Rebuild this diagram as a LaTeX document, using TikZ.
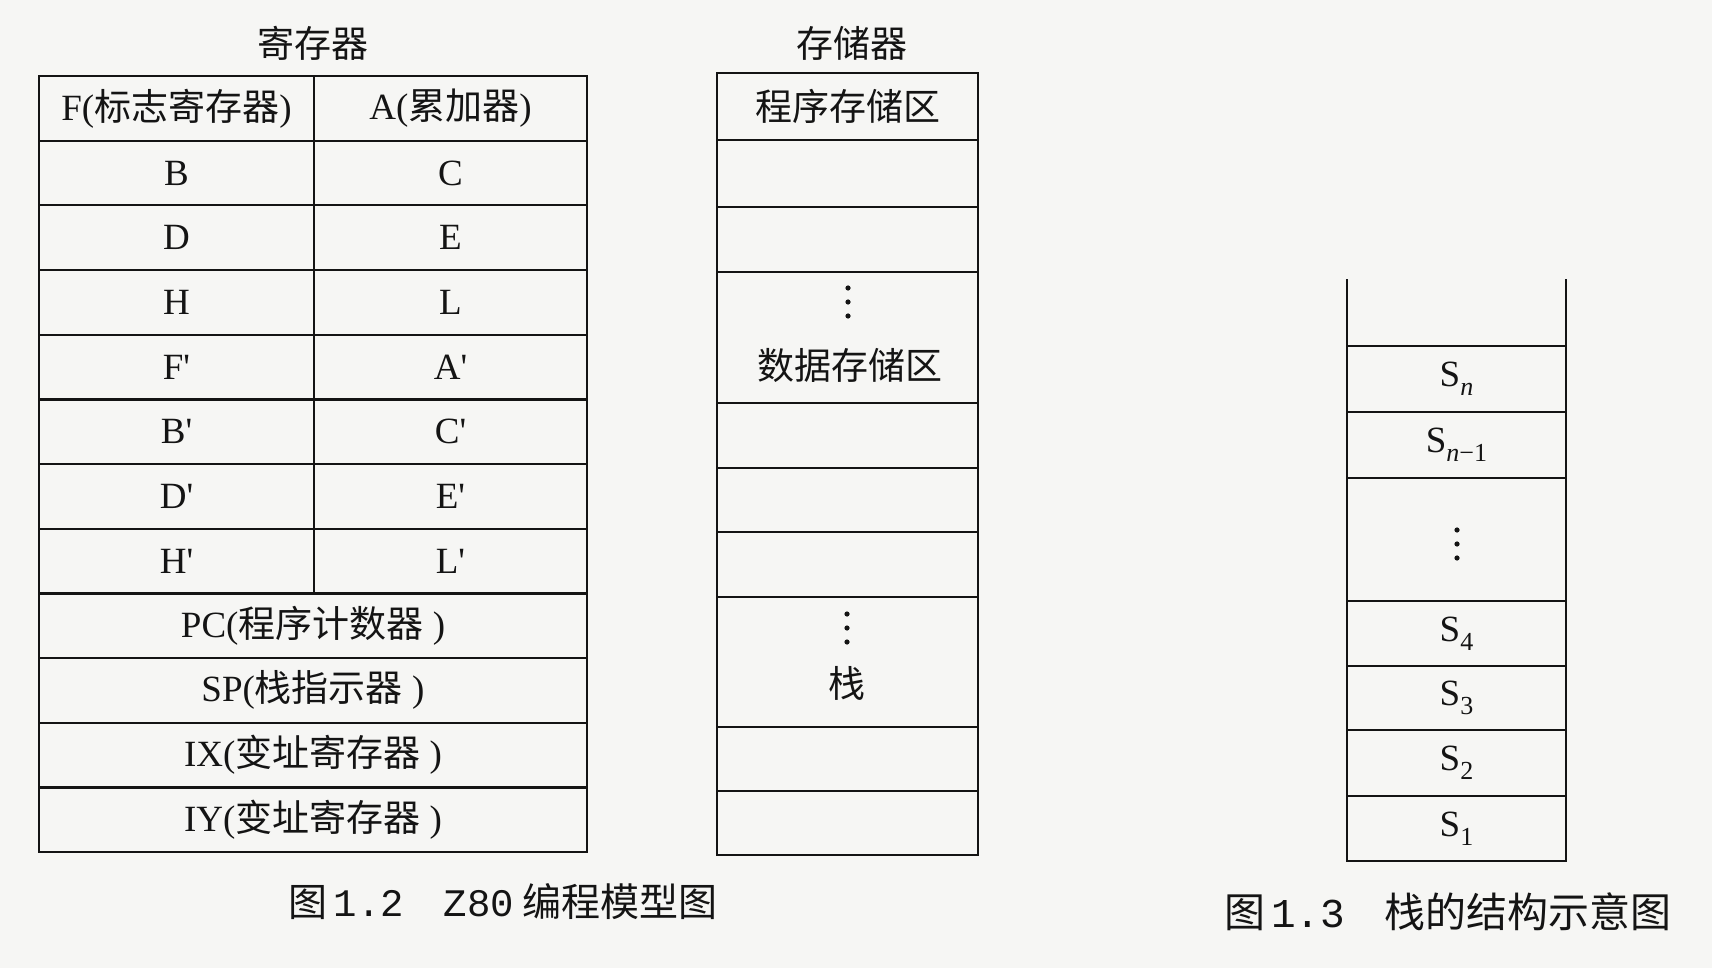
\documentclass[tikz,border=0pt]{standalone}
\usepackage{fontspec}
\setmainfont{Liberation Serif}
\newfontfamily\zhfont{Noto Sans CJK SC}
\newfontfamily\capmono{Liberation Mono}
\newcommand\zh[1]{{\zhfont #1}}
\newcommand\pr{\XeTeXglyph\XeTeXcharglyph"27\relax}
\newcommand\sbs[1]{\raisebox{-0.55ex}{\fontsize{13}{13}\selectfont #1}}
\definecolor{ink}{RGB}{20,20,20}
\definecolor{paper}{RGB}{246,246,244}
\begin{document}
\begin{tikzpicture}[x=0.5pt,y=-0.5pt,
  cell/.style={draw=ink, line width=1.15pt, inner sep=0pt, outer sep=0pt,
    anchor=north west, text=ink, font=\fontsize{18.5}{20}\selectfont},
  txt/.style={inner sep=0pt, text=ink, font=\fontsize{18.5}{20}\selectfont},
  captxt/.style={inner sep=0pt, text=ink, font=\fontsize{19.5}{21}\selectfont},
  dot/.style={circle, fill=ink, inner sep=0pt, minimum size=2.6pt}]
\fill[paper] (0,0) rectangle (1712,968);
\useasboundingbox (0,0) rectangle (1712,968);

% ---------- registers ----------
\node[txt] (regtitle) at (313,43) {\zh{寄存器}};
\foreach \i/\l/\r in {0/{F(\zh{标志寄存器})}/{A(\zh{累加器})},
    1/B/C, 2/D/E, 3/H/L, 4/F\pr/A\pr, 5/B\pr/C\pr, 6/D\pr/E\pr, 7/H\pr/L\pr}{
  \node[cell, minimum width=137.5pt, minimum height=32.33pt] (rl\i) at (39,{76+\i*64.67}) {\l};
  \node[cell, minimum width=136.5pt, minimum height=32.33pt] (rr\i) at (314,{76+\i*64.67}) {\r};
}
\foreach \i/\t in {8/{PC(\zh{程序计数器} )}, 9/{SP(\zh{栈指示器} )},
    10/{IX(\zh{变址寄存器} )}, 11/{IY(\zh{变址寄存器} )}}{
  \node[cell, minimum width=274pt, minimum height=32.33pt] (rw\i) at (39,{76+\i*64.67}) {\t};
}
\node[captxt] (cap2) at (503,902) {\zh{图}\hspace{3pt}{\capmono 1.2}\hspace{20pt}{\capmono Z80}\hspace{4pt}\zh{编程模型图}};

% ---------- memory ----------
\node[txt] (memtitle) at (852,43) {\zh{存储器}};
\foreach \i/\y/\h in {1/73/67, 2/140/67, 3/207/65, 4/272/131, 5/403/65,
    6/468/64, 7/532/65, 8/597/130, 9/727/64, 10/791/64}{
  \node[cell, minimum width=130.5pt, minimum height=\h*0.5pt] (m\i) at (717,\y) {};
}
\node[txt] (prog) at (m1.center) {\zh{程序存储区}};
\node[dot] (mda) at (848,288) {};
\node[dot] (mdb) at (848,302) {};
\node[dot] (mdc) at (848,316) {};
\node[txt] (data) at (850,365) {\zh{数据存储区}};
\node[dot] (mdd) at (847,614) {};
\node[dot] (mde) at (847,628) {};
\node[dot] (mdf) at (847,642) {};
\node[txt] (stk) at (847,683) {\zh{栈}};

% ---------- stack ----------
\coordinate (wl) at (1347,279);
\coordinate (wr) at (1566,279);
\foreach \i/\y/\h/\t in {1/346/66/{S\sbs{\textit{n}}},
    2/412/66/{S\sbs{\textit{n}−1}}, 3/478/123/{},
    4/601/65/{S\sbs{4}}, 5/666/64/{S\sbs{3}},
    6/730/66/{S\sbs{2}}, 7/796/65/{S\sbs{1}}}{
  \node[cell, minimum width=109.5pt, minimum height=\h*0.5pt] (s\i) at (1347,\y) {\t};
}
\draw[ink, line width=1.15pt] (wl) -- (s1.north west);
\draw[ink, line width=1.15pt] (wr) -- (s1.north east);
\node[dot] (sda) at (1457,530) {};
\node[dot] (sdb) at (1457,544) {};
\node[dot] (sdc) at (1457,558) {};
\node[captxt, font=\fontsize{20.5}{22}\selectfont] (cap3) at (1448,912) {\zh{图}\hspace{3pt}{\capmono 1.3}\hspace{20pt}\zh{栈的结构示意图}};
\end{tikzpicture}
\end{document}
